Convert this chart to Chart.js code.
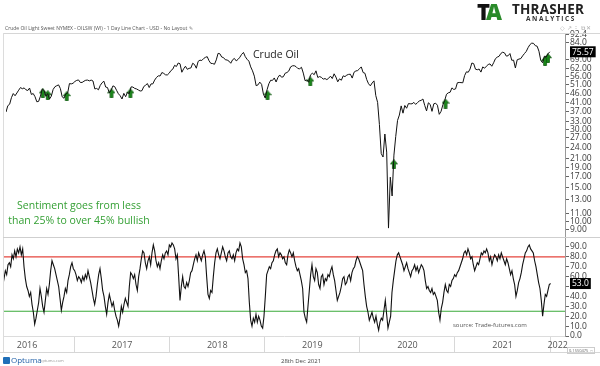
<!DOCTYPE html>
<html>
<head>
<meta charset="utf-8">
<script src="https://cdn.jsdelivr.net/npm/chart.js@4.4.0/dist/chart.umd.min.js"></script>
<style>
    body { margin: 0; width: 600px; height: 366px; background: #fff; position: relative; overflow: hidden; font-family: 'Open Sans', sans-serif; }
    canvas { position: absolute; left: 0; }
    #oilChart { top: 25px; }
    #sentChart { top: 230px; }
    .t { position: absolute; white-space: nowrap; }
    .ln { position: absolute; }
</style>
</head>
<body>
<canvas id="oilChart" width="600" height="220"></canvas>
<canvas id="sentChart" width="600" height="124"></canvas>

<div class="ln" style="left:3px;top:33px;width:597px;border-top:1px solid #d6d6d6;"></div>
<div class="ln" style="left:3px;top:33px;height:319px;border-left:1px solid #dcdcdc;"></div>
<div class="ln" style="left:3px;top:237px;width:597px;border-top:1px solid #cfcfcf;"></div>
<div class="ln" style="left:0;top:352px;width:600px;border-top:1px solid #d6d6d6;"></div>

<div class="t" style="left:5px;top:25px;font-size:5px;line-height:7px;color:#555;">Crude Oil Light Sweet NYMEX - OILSW (WI) - 1 Day Line Chart - USD - No Layout <span style="color:#777">&#9998;</span></div>

<div class="t" style="left:477px;top:-1px;font-size:22px;font-weight:800;line-height:24px;letter-spacing:-4px;"><span style="color:#111">T</span><span style="color:#2a8a2a">A</span></div>
<div class="t" style="left:512px;top:1px;font-size:13.5px;font-weight:700;line-height:16px;color:#222;letter-spacing:0.2px;">THRASHER</div>
<div class="t" style="left:526px;top:15px;font-size:6.5px;font-weight:700;line-height:8px;color:#333;letter-spacing:1.6px;">ANALYTICS</div>
<div class="t" style="left:560px;top:24px;font-size:6px;line-height:8px;color:#aaa;">&#9671; &#8599; &#8942; &#10697; &#10005;</div>

<div class="t" style="left:253px;top:47px;font-size:10.5px;line-height:14px;color:#222;">Crude Oil</div>
<div class="t" style="left:0;width:158px;top:198px;font-size:10.5px;line-height:15px;color:#35a035;text-align:center;">Sentiment goes from less<br>than 25% to over 45% bullish</div>
<div class="t" style="left:453px;top:321px;font-size:6px;line-height:8px;color:#555;">source: Trade-futures.com</div>

<div class="ln" style="left:3px;top:357px;width:7px;height:7px;background:#1f6fb8;border-radius:1px;"></div>
<div class="t" style="left:11px;top:355px;font-size:8px;line-height:10px;color:#1f5fa8;">Optuma</div>
<div class="t" style="left:40px;top:358px;font-size:4px;line-height:5px;color:#999;">optuma.com</div>
<div class="t" style="left:281px;top:357px;font-size:6px;line-height:8px;color:#444;">28th Dec 2021</div>
<div class="t" style="left:567px;top:347px;font-size:4px;line-height:5px;color:#666;border:1px solid #ccc;padding:0 1px;">0.1550475 &#8660;</div>

<script>
// weekly closes, starting first Friday of April 2016
const oil2016 = [36.8, 39.7, 40.4, 43.7, 45.9, 44.7, 46.2, 47.8, 49.3, 48.6, 49.1, 48.0, 47.6, 49.0, 45.4, 45.9, 44.2, 41.6, 41.8, 44.5, 48.5, 47.6, 44.4, 45.9, 43.0, 44.5, 48.2, 49.8, 50.4, 50.9, 48.7, 44.1, 43.4, 45.7, 46.1, 51.7, 51.5, 51.9, 53.0, 53.7];
const oil2017 = [54.0, 52.4, 52.4, 53.2, 53.8, 53.9, 53.4, 53.9, 53.3, 48.5, 48.8, 48.0, 50.6, 52.2, 53.2, 49.6, 49.3, 46.2, 47.8, 50.3, 49.8, 47.7, 45.8, 44.7, 43.0, 46.0, 44.2, 46.5, 45.8, 49.7, 49.6, 48.8, 48.5, 47.9, 47.3, 47.5, 49.9, 50.7, 51.7, 49.3, 51.5, 51.5, 53.9, 55.6, 56.7, 56.6, 59.0, 58.4, 57.4, 57.3, 58.5, 60.4];
const oil2018 = [61.4, 64.3, 63.4, 66.1, 65.5, 59.2, 61.7, 63.6, 61.3, 62.0, 62.3, 65.9, 64.9, 62.1, 67.4, 68.4, 68.1, 69.7, 70.7, 71.3, 67.9, 65.8, 65.7, 65.1, 68.6, 74.2, 73.8, 71.0, 70.5, 68.7, 68.5, 67.6, 65.9, 68.7, 69.8, 67.8, 69.0, 70.8, 73.3, 75.0, 71.3, 69.1, 67.6, 63.1, 60.2, 56.5, 50.4, 50.9, 52.6, 51.2, 45.6, 43.5];
const oil2019 = [48.0, 51.6, 53.8, 53.7, 55.3, 52.7, 55.6, 57.3, 55.8, 56.1, 58.5, 59.0, 60.1, 63.1, 63.9, 64.0, 63.3, 61.9, 61.7, 62.8, 58.6, 53.5, 54.0, 52.5, 57.4, 58.5, 57.5, 60.2, 55.6, 56.2, 55.7, 54.5, 54.9, 54.2, 55.1, 56.5, 54.9, 58.1, 55.9, 52.8, 54.7, 53.8, 56.7, 56.2, 57.2, 57.7, 57.8, 55.2, 59.2, 60.1, 60.4, 61.7];
const oil2020 = [63.1, 59.0, 58.5, 54.2, 51.6, 50.3, 52.1, 53.4, 44.8, 41.3, 31.7, 22.4, 21.5, 28.3, 22.8, 9.2, 16.9, 13.5, 22.0, 27.5, 33.3, 35.5, 39.6, 36.3, 39.8, 38.5, 40.7, 40.6, 40.6, 41.3, 40.3, 41.2, 42.0, 42.3, 43.0, 39.8, 37.3, 41.1, 40.3, 37.1, 40.6, 40.9, 39.9, 35.8, 37.1, 40.1, 42.2, 45.5, 46.3, 46.6, 49.1, 48.2];
const oil2021 = [48.5, 52.2, 52.4, 52.3, 52.2, 56.9, 59.5, 59.2, 61.5, 66.1, 65.6, 61.4, 61.0, 61.5, 59.3, 63.1, 62.1, 63.6, 64.9, 65.4, 63.6, 66.3, 69.6, 70.9, 71.6, 74.1, 75.2, 74.6, 71.8, 72.1, 74.0, 68.3, 68.4, 62.3, 68.7, 69.3, 69.7, 72.0, 74.0, 75.9, 79.4, 82.3, 83.8, 83.6, 81.3, 80.8, 76.1, 68.2, 66.3, 71.7, 70.9, 73.8, 75.57];
const oilStart = 2016.247;

// bullish sentiment %, sampled about every 5 days
const sentFirstHalf = [50, 58, 66, 62, 72, 74, 70, 82, 78, 86, 80, 88, 84, 90, 82, 88, 70, 58, 50, 46, 40, 44, 32, 24, 12, 18, 26, 34, 48, 40, 30, 24, 36, 48, 42, 52, 66, 76, 72, 68, 62, 56, 50, 38, 26, 34, 40, 48, 44, 56, 62, 70, 74, 68, 66, 62, 56, 60, 58, 54, 60, 56, 62, 58, 66, 60, 54, 46, 38, 32, 40, 52, 62, 68, 58, 46, 40, 30, 22, 34, 42, 36, 30, 34, 26, 20, 16, 10, 18, 30, 24, 32, 38, 34, 30, 50, 64, 62, 58, 62, 52, 46, 60, 68, 78, 86, 84, 74, 68, 76, 80, 72, 84, 92, 86, 76, 70, 74, 68, 76, 82, 78, 84, 86, 82, 92, 90, 94, 92, 88, 78, 82, 60, 36, 50, 60, 50, 48, 54, 50, 56, 64, 66, 72, 78, 82, 76, 84, 80, 76, 82, 86, 80, 60, 42, 38, 46, 44, 60, 74, 84, 88, 82, 78, 84, 90, 86, 80, 76, 84, 86, 80, 78, 82, 76, 84, 88, 86, 94, 90, 78, 72, 64, 66, 58, 34, 16, 10, 18, 14, 22, 14, 20, 16, 10, 8, 20, 40, 62, 66, 70, 68, 74, 76, 82, 86, 88, 80, 84];
const sentSecondHalf = [82, 78, 80, 74, 72, 82, 87, 84, 80, 84, 76, 70, 66, 68, 62, 56, 48, 24, 18, 14, 30, 46, 62, 72, 60, 56, 68, 64, 52, 48, 60, 62, 52, 58, 56, 62, 60, 66, 70, 62, 56, 46, 36, 40, 44, 50, 58, 60, 52, 54, 60, 62, 56, 64, 68, 70, 76, 80, 78, 74, 70, 66, 52, 40, 30, 24, 16, 20, 24, 18, 14, 20, 12, 6, 14, 18, 16, 26, 36, 22, 8, 14, 20, 44, 56, 66, 76, 82, 84, 80, 76, 72, 66, 70, 74, 68, 64, 60, 66, 68, 72, 66, 70, 64, 68, 72, 70, 66, 56, 48, 50, 46, 44, 48, 42, 44, 40, 36, 24, 16, 28, 34, 44, 52, 46, 44, 52, 50, 56, 58, 62, 60, 64, 66, 70, 74, 78, 84, 86, 82, 88, 84, 78, 80, 72, 66, 70, 74, 72, 78, 84, 82, 86, 84, 88, 84, 76, 80, 72, 78, 82, 80, 76, 82, 78, 84, 80, 76, 72, 78, 74, 68, 62, 66, 58, 52, 40, 46, 54, 58, 64, 72, 78, 84, 86, 90, 92, 88, 86, 84, 76, 70, 62, 54, 48, 36, 20, 32, 42, 40, 46, 52, 53];
const sentStart = 2016.2436;
const sentStep = 0.01402;

// buy signals marked on the price line
const signalDates = [2016.636, 2016.689, 2016.889, 2017.362, 2017.562, 2019.012, 2019.464, 2020.348, 2020.894, 2021.946, 2021.977];
const signalPrices = [46.0, 45.0, 44.5, 46.0, 46.0, 45.0, 53.0, 19.7, 40.7, 67.7, 70.0];

const oilTicks = [92.4, 84, 69, 62, 56, 51, 46, 41, 37, 33, 30, 27, 24, 21, 19, 17, 15, 13, 11, 10, 9];
const oilTickLabels = ['92.4', '84.0', '69.00', '62.00', '56.00', '51.00', '46.00', '41.00', '37.00', '33.00', '30.00', '27.00', '24.00', '21.00', '19.00', '17.00', '15.00', '13.00', '11.00', '10.00', '9.00'];
const sentTicks = [0, 10, 20, 30, 40, 50, 60, 70, 80, 90];
const overbought = 80;
const oversold = 25;

const yearBounds = [2017, 2018, 2019, 2020, 2021, 2022];
const yearTicks = [2016.5, 2017.5, 2018.5, 2019.5, 2020.5, 2021.5, 2022.08];
const yearLabels = ['2016', '2017', '2018', '2019', '2020', '2021', '2022'];

const xMin = 2016.247;
const xMax = 2022.157;

const oilValues = [].concat(oil2016, oil2017, oil2018, oil2019, oil2020, oil2021);
const oilPoints = oilValues.map((v, i) => ({ x: oilStart + i * 7 / 365.25, y: v }));
const sentValues = sentFirstHalf.concat(sentSecondHalf);
const sentPoints = sentValues.map((v, i) => ({ x: sentStart + i * sentStep, y: v }));
const signalPoints = signalDates.map((d, i) => ({ x: d, y: signalPrices[i] }));

function makeArrow() {
    const c = document.createElement('canvas');
    c.width = 8;
    c.height = 10;
    const a = c.getContext('2d');
    a.fillStyle = '#1a8a1a';
    a.strokeStyle = '#0c560c';
    a.lineWidth = 0.8;
    a.beginPath();
    a.moveTo(4, 0.5);
    a.lineTo(7.5, 4.5);
    a.lineTo(5.4, 4.5);
    a.lineTo(5.4, 9.5);
    a.lineTo(2.6, 9.5);
    a.lineTo(2.6, 4.5);
    a.lineTo(0.5, 4.5);
    a.closePath();
    a.fill();
    a.stroke();
    return c;
}

// black box with last value on the right axis
const lastValueBox = {
    id: 'lastValueBox',
    afterDraw(chart, args, opts) {
        const data = chart.data.datasets[0].data;
        const last = data[data.length - 1].y;
        const y = chart.scales.y.getPixelForValue(last);
        const ctx = chart.ctx;
        const txt = last.toFixed(opts.digits);
        ctx.save();
        ctx.font = '8.5px "Open Sans"';
        const w = ctx.measureText(txt).width + 4;
        ctx.fillStyle = '#000';
        ctx.fillRect(chart.chartArea.right + 5, y - 5.5, w, 11);
        ctx.fillStyle = '#fff';
        ctx.textBaseline = 'middle';
        ctx.fillText(txt, chart.chartArea.right + 7, y + 0.5);
        ctx.restore();
    }
};

const axisFont = { family: 'Open Sans', size: 8.5 };

new Chart(document.getElementById('oilChart'), {
    type: 'line',
    data: {
        datasets: [
            {
                data: oilPoints,
                borderColor: '#111',
                borderWidth: 1,
                pointRadius: 0,
                tension: 0
            },
            {
                type: 'scatter',
                data: signalPoints,
                pointStyle: makeArrow(),
                pointRadius: 5
            }
        ]
    },
    options: {
        responsive: false,
        animation: false,
        layout: { padding: { left: 3, top: 8, bottom: 8, right: 0 } },
        plugins: {
            legend: { display: false },
            tooltip: { enabled: false },
            lastValueBox: { digits: 2 }
        },
        scales: {
            x: { type: 'linear', min: xMin, max: xMax, display: false },
            y: {
                type: 'logarithmic',
                position: 'right',
                min: 8.27,
                max: 94.6,
                afterBuildTicks: function(scale) {
                    scale.ticks = oilTicks.map(v => ({ value: v }));
                },
                afterFit: function(scale) { scale.width = 35; },
                ticks: {
                    autoSkip: false,
                    padding: 1,
                    color: '#3a3a3a',
                    font: axisFont,
                    callback: function(value, idx) { return oilTickLabels[idx]; }
                },
                grid: { drawOnChartArea: false, tickLength: 4, color: '#666' },
                border: { display: true, color: '#999' }
            }
        }
    },
    plugins: [lastValueBox]
});

new Chart(document.getElementById('sentChart'), {
    type: 'line',
    data: {
        datasets: [
            {
                data: sentPoints,
                borderColor: '#111',
                borderWidth: 1.1,
                pointRadius: 0,
                tension: 0
            },
            {
                data: [{ x: xMin, y: overbought }, { x: xMax, y: overbought }],
                borderColor: '#e5453d',
                borderWidth: 1.2,
                pointRadius: 0
            },
            {
                data: [{ x: xMin, y: oversold }, { x: xMax, y: oversold }],
                borderColor: '#3aaa3a',
                borderWidth: 1.2,
                pointRadius: 0
            }
        ]
    },
    options: {
        responsive: false,
        animation: false,
        layout: { padding: { left: 3, top: 8, bottom: 2, right: 0 } },
        plugins: {
            legend: { display: false },
            tooltip: { enabled: false },
            lastValueBox: { digits: 1 }
        },
        scales: {
            x: {
                type: 'linear',
                min: xMin,
                max: xMax,
                afterBuildTicks: function(scale) {
                    scale.ticks = yearBounds.concat(yearTicks).sort((a, b) => a - b).map(v => ({ value: v }));
                },
                afterFit: function(scale) { scale.height = 16; },
                ticks: {
                    autoSkip: false,
                    maxRotation: 0,
                    padding: -12,
                    color: '#555',
                    font: { family: 'Open Sans', size: 9 },
                    callback: function(value) {
                        const i = yearTicks.indexOf(value);
                        return i >= 0 ? yearLabels[i] : '';
                    }
                },
                grid: {
                    drawOnChartArea: false,
                    tickLength: 16,
                    color: function(ctx) {
                        return ctx.tick && yearBounds.includes(ctx.tick.value) ? '#d8d8d8' : 'rgba(0,0,0,0)';
                    }
                },
                border: { display: true, color: '#dcdcdc' }
            },
            y: {
                type: 'linear',
                position: 'right',
                min: 0,
                max: 99,
                afterBuildTicks: function(scale) {
                    scale.ticks = sentTicks.map(v => ({ value: v }));
                },
                afterFit: function(scale) { scale.width = 35; },
                ticks: {
                    autoSkip: false,
                    padding: 1,
                    color: '#3a3a3a',
                    font: axisFont,
                    callback: function(value) { return value.toFixed(1); }
                },
                grid: { drawOnChartArea: false, tickLength: 4, color: '#666' },
                border: { display: true, color: '#999' }
            }
        }
    },
    plugins: [lastValueBox]
});
</script>
</body>
</html>
